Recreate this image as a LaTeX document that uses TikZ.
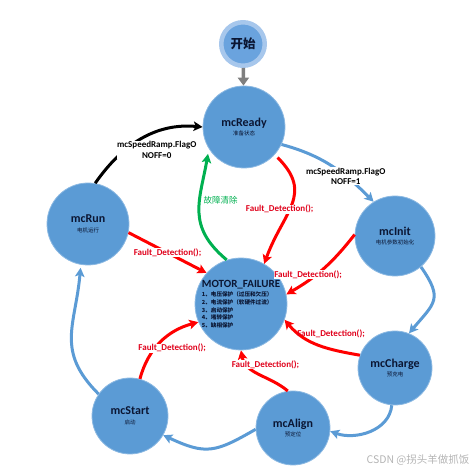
\documentclass[tikz,border=0pt]{standalone}
\usepackage{fontspec}
\setmainfont{Carlito}
\newfontfamily\cjk{Noto Sans CJK SC}
\usetikzlibrary{arrows.meta}
\definecolor{stateblue}{HTML}{5B9BD5}
\definecolor{startcore}{HTML}{6AA3DE}
\definecolor{startring}{HTML}{A7C7EC}
\definecolor{navyink}{HTML}{0B1633}
\definecolor{faultred}{HTML}{FF0000}
\definecolor{faulttext}{HTML}{E0001B}
\definecolor{cleargreen}{HTML}{00B050}
\definecolor{flowblue}{HTML}{5B9BD5}
\definecolor{entrygray}{HTML}{7F7F7F}
\definecolor{markgray}{HTML}{B4B4B4}
\tikzset{
  fsm diagram/.style={
    x=1pt, y=1pt,
    >={Stealth[length=9pt,width=9.5pt,inset=2pt]},
    line join=round
  },
  statenode/.style={
    circle,
    fill=stateblue,
    draw=stateblue!70!white,
    line width=0.8pt,
    inner sep=0pt,
    align=center,
    text=navyink
  },
  entrynode/.style={
    circle,
    fill=startcore,
    draw=startring,
    line width=4.5pt,
    inner sep=0pt,
    minimum size=43.5pt,
    text=navyink,
    font={\cjk\fontsize{12.5}{13}\selectfont\bfseries}
  },
  failtext/.style={
    align=left,
    font={\cjk\fontsize{5.6}{7.7}\selectfont\bfseries}
  },
  watermark/.style={
    text=markgray,
    font={\cjk\fontsize{10.5}{11}\selectfont}
  },
  flowlabel/.style={
    font={\fontsize{9}{10.5}\selectfont\bfseries},
    align=center,
    fill=white,
    inner sep=0.5pt
  },
  faultlabel/.style={
    font={\fontsize{9}{10}\selectfont\bfseries},
    text=faulttext,
    fill=white,
    inner sep=0.5pt
  },
  clearlabel/.style={
    font={\cjk\fontsize{8.5}{9}\selectfont},
    text=cleargreen,
    inner sep=0.5pt
  },
  entryarrow/.style={
    -{Triangle[length=8pt,width=11pt]},
    draw=entrygray,
    line width=3.5pt
  },
  rampedge/.style={
    ->,
    draw=black,
    line width=3pt
  },
  flowarrow/.style={
    ->,
    draw=flowblue,
    line width=3pt
  },
  faultarrow/.style={
    ->,
    draw=faultred,
    line width=3pt
  },
  cleararrow/.style={
    ->,
    draw=cleargreen,
    line width=3pt
  }
}
\newcommand{\statetext}[2]{{\fontsize{12}{12}\selectfont\bfseries #1}\\[-2.5pt]{\cjk\fontsize{5.5}{6}\selectfont #2}}

\begin{document}
\begin{tikzpicture}[fsm diagram]
\path[use as bounding box] (0,0) rectangle (474,476);
% states
\node[entrynode] (go) at (243,432) {开始};
\node[statenode, minimum size=82pt] (ready) at (244,349) {\statetext{mcReady}{准备状态}};
\node[statenode, minimum size=82pt] (run) at (88,252) {\statetext{mcRun}{电机运行}};
\node[statenode, minimum size=80pt] (init) at (395,240) {\statetext{mcInit}{电机参数初始化}};
\node[statenode, minimum size=74pt] (charge) at (395,108) {\statetext{mcCharge}{预充电}};
\node[statenode, minimum size=74pt] (align) at (293,48) {\statetext{mcAlign}{预定位}};
\node[statenode, minimum size=76pt] (launch) at (130,60) {\statetext{mcStart}{启动}};
\node[statenode, failtext, minimum size=92pt] (fail) at (241,172) {{\rmfamily\fontsize{11}{11}\selectfont\bfseries MOTOR\_FAILURE}\\[2pt]
  1、电压保护（过压和欠压）\\
  2、电流保护（软硬件过流）\\
  3、启动保护\\
  4、堵转保护\\
  5、缺相保护};
\node[watermark] (mark) at (418,16) {CSDN @拐头羊做抓饭};

% normal flow
\draw[entryarrow] (go) -- (ready);
\draw[rampedge] (run.80) to[out=55,in=175] node[flowlabel, pos=0.55, below=3pt, xshift=10pt] {mcSpeedRamp.FlagO\\NOFF=0} (ready.180);
\draw[flowarrow] (ready.-25) to[out=-15,in=135] node[flowlabel, pos=0.67] {mcSpeedRamp.FlagO\\NOFF=1} (init.122);
\draw[flowarrow] (init.-50) to[out=-55,in=50,looseness=1.5] (charge.68);
\draw[flowarrow] (charge.-95) to[out=-95,in=-20] (align.-5);
\draw[flowarrow] (align.182) to[out=210,in=-25,looseness=1.3] (launch.-30);
\draw[flowarrow, shorten >=3pt] (launch.145) to[out=135,in=-95,looseness=1.2] (run.-100);

% fault handling
\draw[cleararrow, shorten >=5pt] (fail.108) to[out=140,in=-100,looseness=1.2] node[clearlabel, pos=0.6, right=2pt] {故障清除} (ready.-148);
\draw[faultarrow, shorten <=4pt] (ready.-42) to[out=-45,in=70,looseness=1.3] node[faultlabel, pos=0.55, xshift=-10pt] {Fault\_Detection();} (fail.60);
\draw[faultarrow] (run.-12) -- node[faultlabel] {Fault\_Detection();} (fail.138);
\draw[faultarrow] (init.178) to[out=232,in=30] node[faultlabel, pos=0.62, xshift=-8pt] {Fault\_Detection();} (fail.12);
\draw[faultarrow] (charge.160) to[out=170,in=-50] node[faultlabel, fill=none, pos=0.5, above=5pt, xshift=13pt] {Fault\_Detection();} (fail.-20);
\draw[faultarrow] (align.98) to[out=140,in=-80] node[faultlabel, pos=0.75, xshift=18pt] {Fault\_Detection();} (fail.-90);
\draw[faultarrow] (launch.75) to[out=75,in=195] node[faultlabel, pos=0.4, xshift=17pt] {Fault\_Detection();} (fail.203);
\end{tikzpicture}
\end{document}
